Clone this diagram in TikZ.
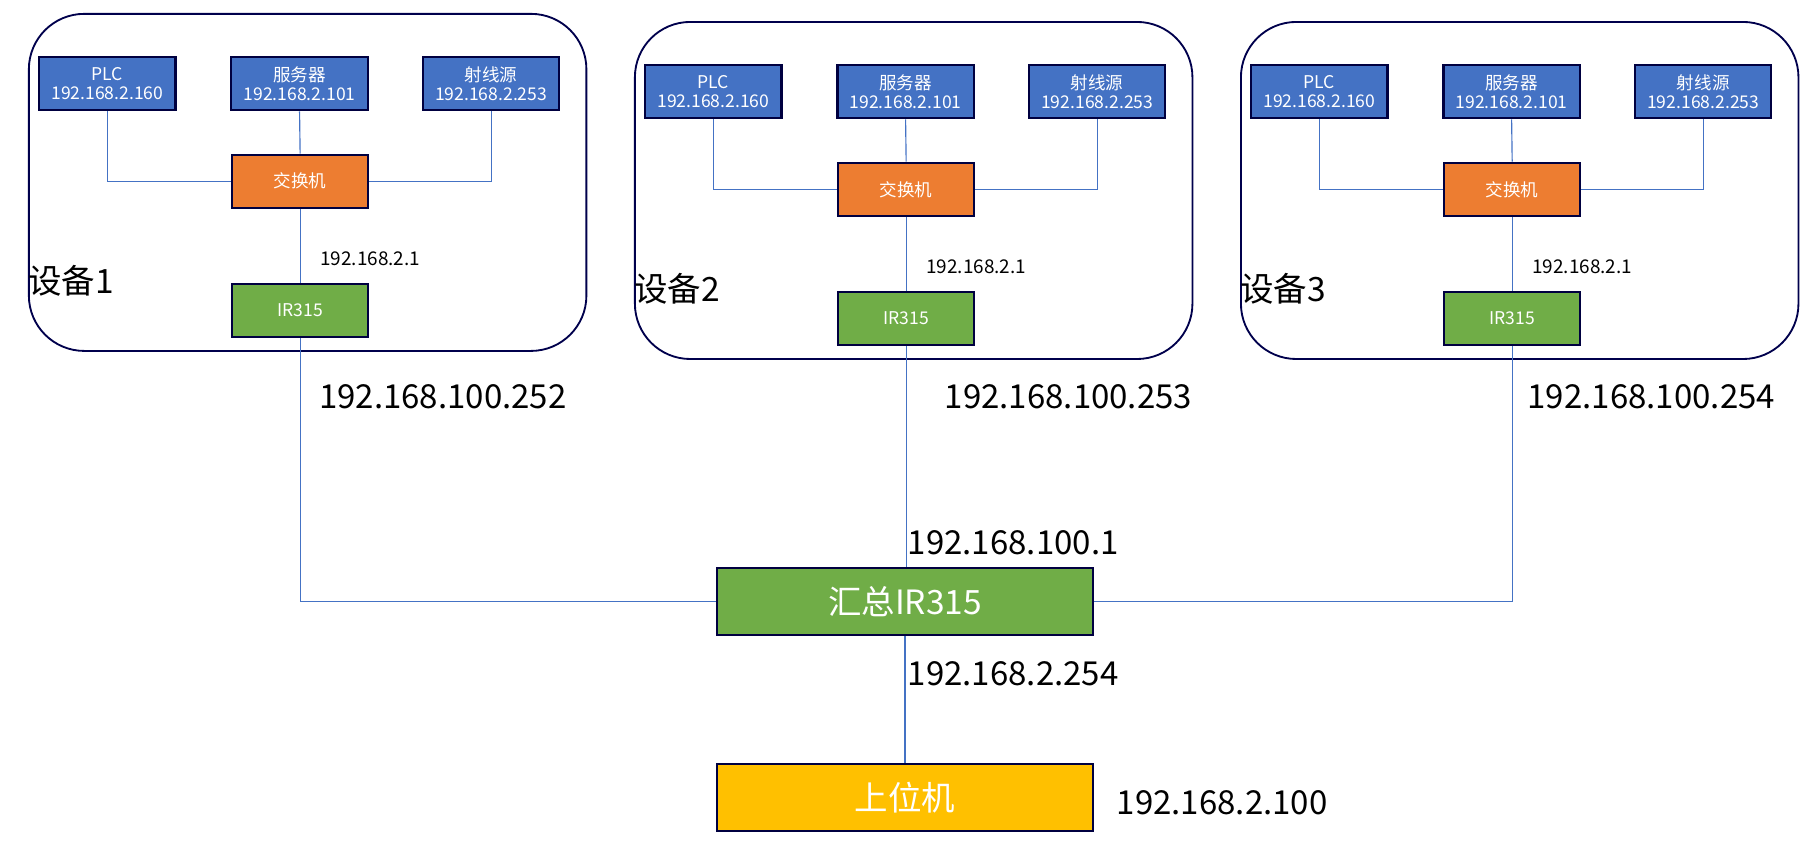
\documentclass[tikz,border=0pt]{standalone}
\usepackage{fontspec}
\setmainfont{Noto Sans CJK SC}
\begin{document}
\begin{tikzpicture}[x=0.5pt,y=-0.5pt,
  box/.style={draw=black!75!blue,line width=0.9pt,minimum width=59pt,minimum height=23pt,inner sep=0pt,text=white,align=center,font=\fontsize{7.6}{8.4}\selectfont},
  dev/.style={draw=black!70!blue,line width=0.8pt,rounded corners=24pt},
  wire/.style={draw=blue!60!cyan!70!black,line width=0.5pt},
  big/.style={font=\fontsize{14.3}{16}\selectfont,anchor=west,inner sep=0pt}]
\definecolor{cb}{HTML}{4472C4}\definecolor{co}{HTML}{ED7D31}\definecolor{cg}{HTML}{70AD47}\definecolor{cy}{HTML}{FFC000}\definecolor{cl}{HTML}{4472C4}
\useasboundingbox (0,0) rectangle (1568,741);
\foreach \i/\dx/\dy/\ip/\bx in {1/0/0/252/276,2/525/7/253/293,3/1050/7/254/273}{
  \begin{scope}[shift={(\dx,\dy)}]
  \draw[dev] (25,12) rectangle (508,304);
  \node[box,fill=cb] (plc\i) at (93,72.5) {PLC\\192.168.2.160};
  \node[box,fill=cb] (srv\i) at (259.5,72.5) {服务器\\192.168.2.101};
  \node[box,fill=cb] (ray\i) at (425.5,72.5) {射线源\\192.168.2.253};
  \node[box,fill=co] (sw\i) at (260,157) {交换机};
  \node[box,fill=cg] (ir\i) at (260,269) {IR315};
  \node[anchor=west,inner sep=0pt,font=\fontsize{8.2}{9}\selectfont] (l\i) at (277,224) {192.168.2.1};
  \node[anchor=west,inner sep=0pt,font=\fontsize{14.5}{16}\selectfont] (d\i) at (24,243) {设备\i};
  \node[big] (b\i) at (\bx,344-\dy) {192.168.100.\ip};
  \draw[wire,cl] (plc\i.south) |- (sw\i.west);
  \draw[wire,cl] (ray\i.south) |- (sw\i.east);
  \draw[wire,cl] (srv\i.south) -- (sw\i.north);
  \draw[wire,cl] (sw\i.south) -- (ir\i.north);
  \end{scope}}
\node[box,fill=cg,minimum width=163pt,minimum height=29pt,font=\fontsize{14.5}{16}\selectfont] (hub) at (784,521) {汇总IR315};
\node[box,fill=cy,minimum width=163pt,minimum height=29pt,font=\fontsize{14.5}{16}\selectfont] (pc) at (784,691) {上位机};
\node[big] (h1) at (786,470) {192.168.100.1};
\node[big] (h2) at (786,584) {192.168.2.254};
\node[big] (h3) at (967,695) {192.168.2.100};
\draw[wire,cl] (ir1.south) |- (hub.west);
\draw[wire,cl] (ir3.south) |- (hub.east);
\draw[wire,cl] (ir2.south) -- (ir2.south |- hub.north);
\draw[wire,cl] (hub.south) -- (pc.north);
\end{tikzpicture}
\end{document}
